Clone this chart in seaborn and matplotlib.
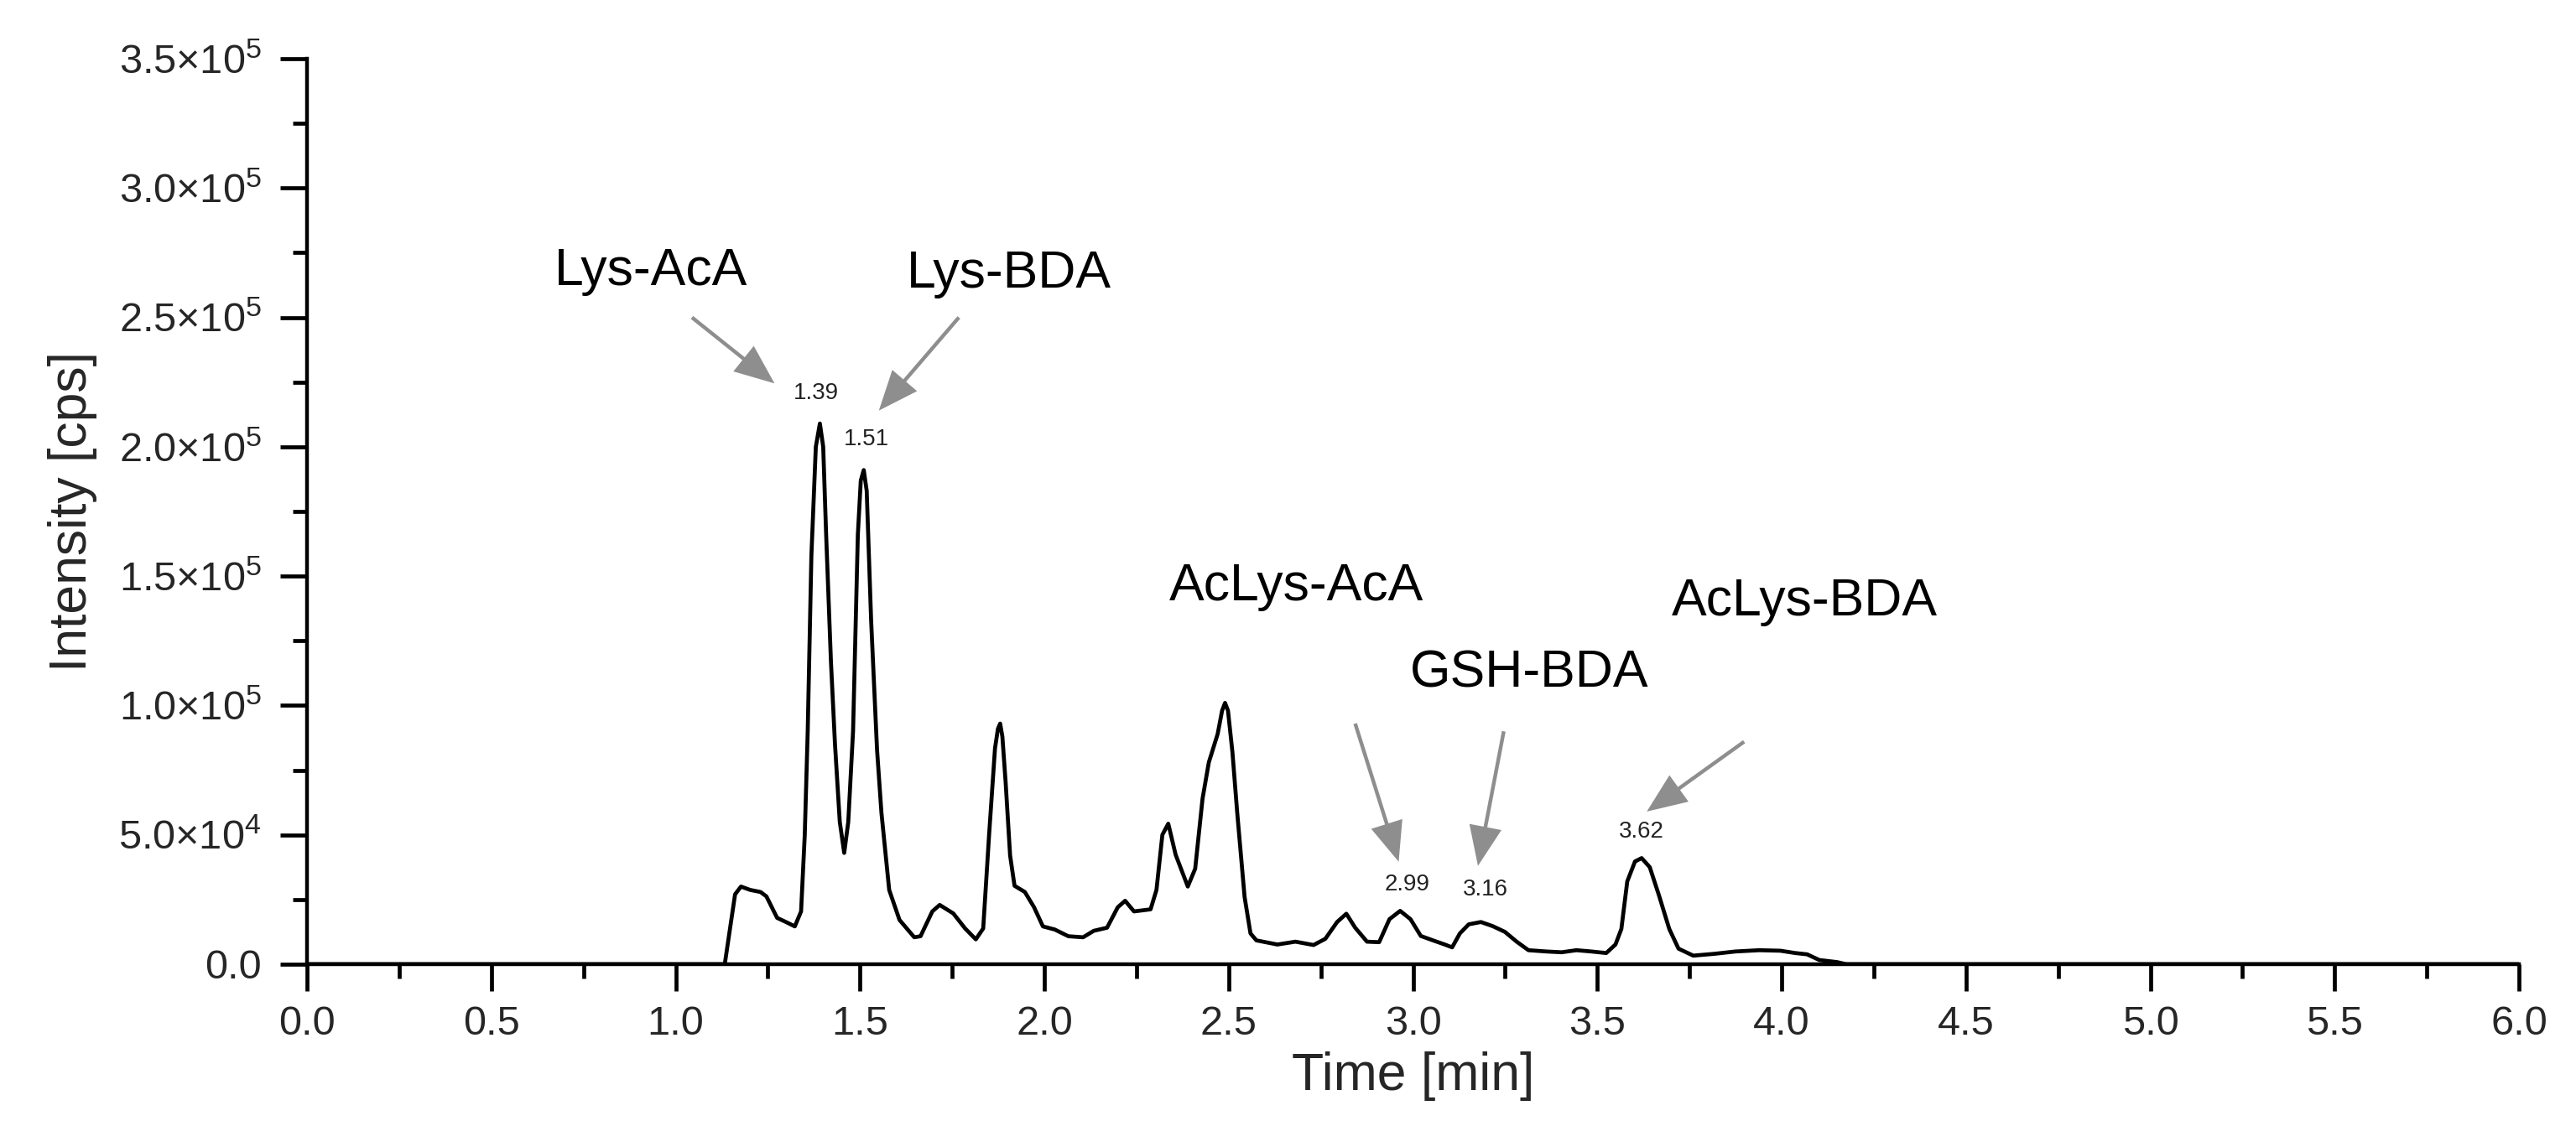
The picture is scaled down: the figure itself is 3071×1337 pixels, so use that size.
import matplotlib
matplotlib.use('Agg')
import matplotlib.pyplot as plt
import seaborn as sns
import pandas as pd
from matplotlib.ticker import MultipleLocator, FuncFormatter

# chromatogram trace (time in min, intensity in cps)
time_min = [0.0, 1.12, 1.133, 1.161, 1.177, 1.202, 1.230, 1.246, 1.275, 1.299,
            1.323, 1.340, 1.350, 1.358, 1.368, 1.380, 1.391, 1.400, 1.408, 1.421,
            1.432, 1.445, 1.457, 1.468, 1.481, 1.494, 1.502, 1.510, 1.518, 1.530,
            1.546, 1.558, 1.579, 1.607, 1.647, 1.664,
            1.696, 1.716, 1.753, 1.785, 1.814, 1.834, 1.850, 1.866, 1.874, 1.880,
            1.886, 1.895, 1.907, 1.919, 1.947, 1.972, 1.996, 2.028, 2.065, 2.105,
            2.134, 2.170, 2.199, 2.219, 2.243, 2.288, 2.304, 2.320, 2.336, 2.356,
            2.389, 2.409, 2.429, 2.446, 2.470, 2.482, 2.490, 2.498, 2.510, 2.523,
            2.543, 2.559, 2.575, 2.632,
            2.681, 2.730, 2.762, 2.794, 2.819, 2.843, 2.875, 2.908, 2.936, 2.965,
            2.993, 3.021, 3.054, 3.086, 3.106, 3.127, 3.151, 3.184, 3.216, 3.249,
            3.281, 3.313, 3.362, 3.403, 3.443, 3.484, 3.524, 3.549, 3.565, 3.581,
            3.602, 3.620, 3.642, 3.667, 3.695, 3.720, 3.760, 3.817, 3.874, 3.939,
            3.996, 4.037, 4.069, 4.102, 4.150, 4.175, 6.0]
intensity = [0, 0, 0, 27000, 30000, 28700, 27900, 26200, 17900, 16300,
             14600, 20400, 50000, 90000, 158000, 200000, 209000, 200000, 166000, 117000,
             85000, 55000, 43000, 55000, 90000, 166000, 187000, 191000, 183000, 133000,
             83000, 58500, 28700, 17100, 10400, 10800,
             20400, 22900, 19600, 13800, 9600, 13800, 50000, 83400, 91000, 93000,
             88000, 70000, 42000, 30300, 27900, 22000, 14600, 13400, 10800, 10400,
             12900, 14100, 22000, 24500, 20400, 21200, 28700, 50000, 54300, 42300,
             30000, 36900, 64000, 78000, 89000, 98000, 101000, 98000, 82000, 58600,
             26000, 11900, 9200, 7600,
             8700, 7400, 9800, 16300, 19500, 14100, 8700, 8500, 17400, 20600,
             17400, 10900, 9200, 7600, 6500, 11900, 15400, 16300, 14700, 12500,
             8700, 5400, 4900, 4600, 5400, 4900, 4300, 7600, 13600, 32000,
             39700, 41000, 37500, 26600, 13600, 6000, 3300, 4000, 4900, 5400,
             5200, 4300, 3800, 1600, 800, 0, 0]

# peak annotations
compound_names = ['Lys-AcA', 'Lys-BDA', 'AcLys-AcA', 'GSH-BDA', 'AcLys-BDA']
peak_labels = ['1.39', '1.51', '2.99', '3.16', '3.62']

name_pos = [(0.933, 2.68e5), (1.905, 2.67e5), (2.684, 1.46e5), (3.316, 1.125e5), (4.062, 1.40e5)]
arrow_tail = [(1.044, 2.50e5), (1.768, 2.50e5), (2.843, 0.93e5), (3.246, 0.90e5), (3.898, 0.86e5)]
arrow_tip = [(1.268, 2.245e5), (1.551, 2.14e5), (2.961, 0.396e5), (3.176, 0.38e5), (3.634, 0.59e5)]
peak_label_pos = [(1.381, 2.206e5), (1.517, 2.03e5), (2.985, 0.309e5), (3.196, 0.288e5), (3.620, 0.511e5)]

df = pd.DataFrame({'Time': time_min, 'Intensity': intensity})

sns.set_style('ticks')
plt.rcParams['font.family'] = ['Liberation Sans', 'DejaVu Sans']
plt.rcParams['mathtext.fontset'] = 'custom'
plt.rcParams['mathtext.rm'] = 'Liberation Sans'
plt.rcParams['mathtext.it'] = 'Liberation Sans'

fig = plt.figure(figsize=(15.355, 6.685), dpi=200)
ax = fig.add_axes([0.1192, 0.1399, 0.8587, 0.8077])

sns.lineplot(data=df, x='Time', y='Intensity', ax=ax, color='black', linewidth=1.7,
             estimator=None, sort=False)

ax.set_xlim(0, 6)
ax.set_ylim(0, 3.5e5)
ax.xaxis.set_major_locator(MultipleLocator(0.5))
ax.xaxis.set_minor_locator(MultipleLocator(0.25))
ax.yaxis.set_major_locator(MultipleLocator(0.5e5))
ax.yaxis.set_minor_locator(MultipleLocator(0.25e5))
ax.xaxis.set_major_formatter(FuncFormatter(lambda v, p: f'{v:.1f}'))


def sci_fmt(v, p):
    if v == 0:
        return '0.0'
    exp = 5 if v >= 1e5 - 1 else 4
    return f'{v / 10**exp:.1f}×10$^{{{exp}}}$'


ax.yaxis.set_major_formatter(FuncFormatter(sci_fmt))

for s in ['top', 'right']:
    ax.spines[s].set_visible(False)
for s in ['left', 'bottom']:
    ax.spines[s].set_linewidth(1.6)
    ax.spines[s].set_color('black')

ax.tick_params(which='major', length=11.5, width=1.7, labelsize=17.5, color='black')
ax.tick_params(which='minor', length=6, width=1.7, color='black')
ax.tick_params(axis='x', which='major', pad=6)
ax.tick_params(axis='y', which='major', pad=8)

ax.set_xlabel('Time [min]', fontsize=22.5, va='center')
ax.set_ylabel('Intensity [cps]', fontsize=22.5, va='center')
ax.xaxis.set_label_coords(0.5, -0.1236)
ax.yaxis.set_label_coords(-0.106, 0.5)

arrow_grey = '#8e8e8e'
for i in range(len(compound_names)):
    ax.annotate('', xy=arrow_tip[i], xytext=arrow_tail[i],
                arrowprops=dict(facecolor=arrow_grey, edgecolor='none', width=1.6,
                                headwidth=14, headlength=17, shrink=0))
    ax.text(name_pos[i][0], name_pos[i][1], compound_names[i], fontsize=22.5,
            ha='center', va='center', color='black')
    ax.text(peak_label_pos[i][0], peak_label_pos[i][1], peak_labels[i], fontsize=10,
            ha='center', va='center', color='#222222')

fig.savefig('out.png', dpi=200)
